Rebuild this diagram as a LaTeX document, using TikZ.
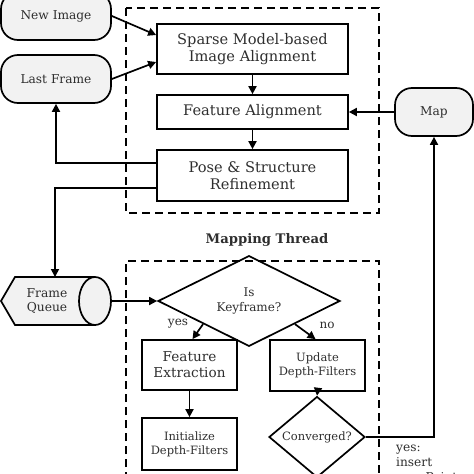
\documentclass[tikz,border=0pt]{standalone}
\usepackage{fontspec}
\setmainfont{DejaVu Serif}
\usetikzlibrary{arrows.meta,shapes.geometric,calc}
\definecolor{boxfill}{HTML}{F2F2F2}
\definecolor{txt}{HTML}{2E2E2E}
\tikzset{
  box/.style={draw=black, line width=1.7pt, inner sep=0pt, align=center, text=txt, rectangle},
  term/.style={box, fill=boxfill, rounded corners=17pt},
  decide/.style={draw=black, line width=1.7pt, inner sep=0pt, align=center, text=txt, diamond},
  arr/.style={line width=1.7pt, -{Triangle[length=8pt,width=8pt]}},
  frame/.style={line width=1.6pt, dash pattern=on 8pt off 5pt},
  fbig/.style={font=\fontsize{14.6}{17}\selectfont},
  fmid/.style={font=\fontsize{12.2}{14}\selectfont},
  fsmall/.style={font=\fontsize{11.5}{14}\selectfont},
}
\begin{document}
\begin{tikzpicture}[x=1pt,y=-1pt]
\useasboundingbox (0,0) rectangle (474,474);
% dashed frames
\draw[frame] (126,8) rectangle (379,213);
\draw[frame] (126,480) -- (126,261) -- (379,261) -- (379,480);
% tracking thread
\node[term, fmid, minimum width=110pt, minimum height=48pt] (newimg) at (56,16) {New Image};
\node[term, fmid, minimum width=110pt, minimum height=48pt] (lastfr) at (56,79) {Last Frame};
\node[box, fbig, minimum width=191pt, minimum height=50pt] (sparse) at (252.5,49) {Sparse Model-based\\Image Alignment};
\node[box, fbig, minimum width=191pt, minimum height=34pt] (featal) at (252.5,112) {Feature Alignment};
\node[box, fbig, minimum width=191pt, minimum height=51pt] (pose) at (252.5,175.5) {Pose \& Structure\\Refinement};
\node[term, fmid, minimum width=78pt, minimum height=48pt] (map) at (434,112) {Map};
% mapping thread
\node[font=\fontsize{13.2}{15}\selectfont\bfseries, text=txt] (mtitle) at (267,240) {Mapping Thread};
\draw[line width=1.7pt, fill=boxfill] (1,301) -- (15,277) -- (95,277)
  arc[start angle=90, end angle=-90, x radius=16pt, y radius=24pt] -- (15,325) -- cycle;
\draw[line width=1.7pt] (95,277) arc[start angle=90, end angle=270, x radius=16pt, y radius=24pt];
\node[font=\fontsize{12.3}{14.5}\selectfont, align=center, text=txt] (queue) at (47,301) {Frame\\Queue};
\coordinate (qtop) at (55,277);
\coordinate (qright) at (111,301);
\node[decide, font=\fontsize{12}{14.5}\selectfont, minimum width=182pt, minimum height=50pt] (iskey) at (249,301) {Is\\Keyframe?};
\node[box, font=\fontsize{13.6}{16}\selectfont, minimum width=95pt, minimum height=50pt] (featex) at (189.5,365) {Feature\\Extraction};
\node[box, fsmall, minimum width=95pt, minimum height=52pt] (initdf) at (189.5,444) {Initialize\\Depth-Filters};
\node[box, fsmall, minimum width=95pt, minimum height=51pt] (upddf) at (317.5,365.5) {Update\\Depth-Filters};
\node[decide, fsmall, minimum width=96pt, minimum height=66pt] (conv) at (317,437) {Converged?};
\node[font=\fontsize{12}{14}\selectfont, text=txt] (yeslbl) at (178,324) {yes};
\node[font=\fontsize{12}{14}\selectfont, text=txt] (nolbl) at (327,325) {no};
\node[font=\fontsize{12.2}{15}\selectfont, text=txt, align=left, anchor=north west, inner sep=0pt] (inslbl) at (396,445) {yes:\\insert\\new Point};
% connectors
\draw[arr] (newimg.east) -- ([yshift=14pt]sparse.west);
\draw[arr] (lastfr.east) -- ([yshift=-13pt]sparse.west);
\draw[arr] (sparse.south) -- (featal.north);
\draw[arr] (featal.south) -- (pose.north);
\draw[arr] (map.west) -- (featal.east);
\draw[arr] ([yshift=12.5pt]pose.west) -| (lastfr.south);
\draw[arr] ([yshift=-12.5pt]pose.west) -| (qtop);
\draw[arr] (qright) -- (iskey.west);
\draw[arr] ($(iskey.west)!0.5!(iskey.south)$) -- ([xshift=3pt]featex.north);
\draw[arr] ($(iskey.east)!0.5!(iskey.south)$) -- ([xshift=-2pt]upddf.north);
\draw[arr] (featex.south) -- (initdf.north);
\draw[arr] (upddf.south) -- (conv.north);
\draw[arr] (conv.east) -| (map.south);
\end{tikzpicture}
\end{document}
